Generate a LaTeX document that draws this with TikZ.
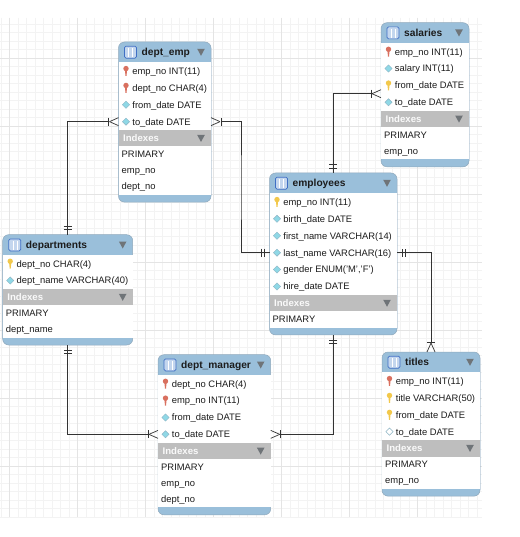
\documentclass[tikz,border=0pt]{standalone}
\usepackage{fontspec}
\setmainfont{Liberation Sans}
\definecolor{hdr}{HTML}{9ABFDA}
\definecolor{band}{HTML}{BEBEBE}
\definecolor{edge}{HTML}{8FA9BC}
\definecolor{tri}{HTML}{6F7478}
\definecolor{gmin}{HTML}{F3F3F3}
\definecolor{gmaj}{HTML}{E4E4E4}
\definecolor{keyy}{HTML}{F2C84B}
\definecolor{fkr}{HTML}{D9705F}
\definecolor{dia}{HTML}{8FD8E6}
\definecolor{diae}{HTML}{8CB4C4}
\definecolor{ink}{HTML}{1C1C1C}
\definecolor{iblue}{HTML}{3F6FC4}
\definecolor{iface}{HTML}{C3D6EE}
\newcommand{\iconpin}[2]{%
  \fill[#2] ([shift={(-1.1,-1)}]#1) -- ([shift={(1.1,-1)}]#1) -- ([shift={(0.5,5)}]#1) -- ([shift={(-0.5,5)}]#1) -- cycle;
  \fill[#2] ([shift={(0,-2.4)}]#1) circle (2.7pt);}
\newcommand{\iconkey}[1]{\iconpin{#1}{keyy}}
\newcommand{\iconfk}[1]{\iconpin{#1}{fkr}}
\newcommand{\icondia}[1]{\draw[diae,fill=dia,line width=.4pt] ([shift={(-3.6,0)}]#1) -- ([shift={(0,-3.6)}]#1) -- ([shift={(3.6,0)}]#1) -- ([shift={(0,3.6)}]#1) -- cycle;}
\newcommand{\iconhol}[1]{\draw[diae,fill=white,line width=.5pt] ([shift={(-3.6,0)}]#1) -- ([shift={(0,-3.6)}]#1) -- ([shift={(3.6,0)}]#1) -- ([shift={(0,3.6)}]#1) -- cycle;}
\newcommand{\trimark}[1]{\fill[tri] ([shift={(-3.8,-3.4)}]#1) -- ([shift={(3.8,-3.4)}]#1) -- ([shift={(0,3.6)}]#1) -- cycle;}
% name x1 x2 ytop ncols nidx title cols idx
\newcommand{\ertable}[9]{%
  \pgfmathsetmacro{\tabw}{#3-#2}
  \pgfmathsetmacro{\tabh}{20.5+#5*16.9+16.5+#6*16+7.5}
  \pgfmathsetmacro{\xc}{(#2+#3)/2}
  \pgfmathsetmacro{\yc}{#4+\tabh/2}
  \node[tablebody,minimum width=\tabw pt,minimum height=\tabh pt] (#1) at (\xc,\yc) {};
  % header
  \pgfmathsetmacro{\yh}{#4+10.2}
  \node[titletext,anchor=base west] (#1-title) at (#2+23,\yh+3.6) {#7};
  \fill[iface,draw=iblue,line width=.7pt,rounded corners=1.5pt] (#2+6,\yh-6) rectangle (#2+18,\yh+6);
  \draw[white,line width=.3pt] (#2+10,\yh-4) -- (#2+10,\yh+5) (#2+14,\yh-4) -- (#2+14,\yh+5);
  \coordinate (#1-tm) at (#3-10,\yh);
  \trimark{#1-tm}
  % columns
  \foreach \ic/\tx [count=\i] in {#8}{
    \pgfmathsetmacro{\yr}{#4+20.5+(\i-0.5)*16.9}
    \node[rowbox,minimum width=\tabw pt,minimum height=17.1pt] (#1-r\i) at (\xc,\yr) {};
    \node[coltext,anchor=base west] (#1-c\i) at (#2+13.7,\yr+3.4) {\tx};
    \coordinate (#1-ic\i) at (#2+7.5,\yr);
    \csname icon\ic\endcsname{#1-ic\i}
  }
  % index band
  \pgfmathsetmacro{\yb}{#4+20.5+#5*16.9+8.25}
  \node[bandbox,minimum width=\tabw pt,minimum height=16.5pt] (#1-band) at (\xc,\yb) {};
  \node[bandtext,anchor=base west] (#1-idx) at (#2+4.5,\yb+3.3) {Indexes};
  \coordinate (#1-bm) at (#3-10,\yb);
  \trimark{#1-bm}
  % index rows
  \foreach \tx [count=\i] in {#9}{
    \pgfmathsetmacro{\yr}{#4+20.5+#5*16.9+16.5+(\i-0.5)*16}
    \node[rowbox,minimum width=\tabw pt,minimum height=16.2pt] (#1-x\i) at (\xc,\yr) {};
    \node[coltext,anchor=base west] (#1-t\i) at (#2+3,\yr+3.3) {\tx};
  }
}
% crow's foot / bars: #1 node anchor, (#2,#3) direction away from the table
\newcommand{\crowmark}[3]{%
  \draw[conn] ([shift={({10*#2+4*#3},{10*#3+4*#2})}]#1) -- ([shift={({10*#2-4*#3},{10*#3-4*#2})}]#1);
  \draw[conn] ([shift={({9*#2},{9*#3})}]#1) -- ([shift={({4*#3},{4*#2})}]#1);
  \draw[conn] ([shift={({9*#2},{9*#3})}]#1) -- ([shift={({-4*#3},{-4*#2})}]#1);}
\newcommand{\onemark}[3]{%
  \draw[conn] ([shift={({5*#2+4*#3},{5*#3+4*#2})}]#1) -- ([shift={({5*#2-4*#3},{5*#3-4*#2})}]#1);
  \draw[conn] ([shift={({8.5*#2+4*#3},{8.5*#3+4*#2})}]#1) -- ([shift={({8.5*#2-4*#3},{8.5*#3-4*#2})}]#1);}
\tikzset{
  tablebody/.style={draw=edge,fill=hdr,line width=.5pt,rounded corners=6pt,inner sep=0pt,outer sep=0pt},
  rowbox/.style={fill=white,inner sep=0pt,outer sep=0pt},
  bandbox/.style={fill=band,inner sep=0pt,outer sep=0pt},
  titletext/.style={font=\fontsize{10.2}{12}\selectfont\bfseries,text=ink,inner sep=0pt},
  coltext/.style={font=\fontsize{9.4}{11}\selectfont,text=ink,inner sep=0pt},
  bandtext/.style={font=\fontsize{9.6}{11}\selectfont\bfseries,text=white!92!band,inner sep=0pt},
  conn/.style={draw=black!80,line width=.7pt},
  gridmin/.style={draw=gmin,line width=.5pt},
  gridmaj/.style={draw=gmaj,line width=.6pt}
}
\begin{document}
\begin{tikzpicture}[x=1pt,y=-1pt]
\useasboundingbox (0,0) rectangle (519,537);
\fill[white] (0,0) rectangle (519,537);
% grid
\foreach \k in {0,...,56}{
  \pgfmathsetmacro{\gx}{9.5+8.5*(\k-1)}
  \ifdim\gx pt>0pt \draw[gridmin] (\gx,18) -- (\gx,517); \fi
}
\foreach \k in {0,...,58}{
  \pgfmathsetmacro{\gy}{517-8.5*\k}
  \ifdim\gy pt>18pt \draw[gridmin] (0,\gy) -- (482,\gy); \fi
}
\foreach \gx in {9.5,77.5,145.5,213.5,281.5,349.5,417.5}{\draw[gridmaj] (\gx,18) -- (\gx,517);}
\foreach \gy in {58,126,194,262,330,398,466}{\draw[gridmaj] (0,\gy) -- (482,\gy);}
% tables
\ertable{demp}{118.5}{211}{42}{4}{3}{dept\_emp}
  {fk/emp\_no INT(11),fk/dept\_no CHAR(4),dia/from\_date DATE,dia/to\_date DATE}
  {PRIMARY,emp\_no,dept\_no}
\ertable{sal}{381}{469}{22.7}{4}{2}{salaries}
  {fk/emp\_no INT(11),dia/salary INT(11),key/from\_date DATE,dia/to\_date DATE}
  {PRIMARY,emp\_no}
\ertable{emp}{269.5}{397}{173}{6}{1}{employees}
  {key/emp\_no INT(11),dia/birth\_date DATE,dia/first\_name VARCHAR(14),dia/last\_name VARCHAR(16),dia/{gender ENUM('M','F')},dia/hire\_date DATE}
  {PRIMARY}
\ertable{dept}{2.7}{132.7}{234.7}{2}{2}{departments}
  {key/dept\_no CHAR(4),dia/dept\_name VARCHAR(40)}
  {PRIMARY,dept\_name}
\ertable{dmgr}{158}{270.7}{354.7}{4}{3}{dept\_manager}
  {fk/dept\_no CHAR(4),fk/emp\_no INT(11),dia/from\_date DATE,dia/to\_date DATE}
  {PRIMARY,emp\_no,dept\_no}
\ertable{ttl}{382}{480}{352}{4}{2}{titles}
  {fk/emp\_no INT(11),key/title VARCHAR(50),key/from\_date DATE,hol/to\_date DATE}
  {PRIMARY,emp\_no}
% connectors
\coordinate (jog) at (241,188);
\coordinate (saly) at (0,93.7);
\coordinate (salfk) at (sal.west |- saly);
\draw[conn,shorten <=10pt] (demp-r4.west) -| (dept.north);
\draw[conn,shorten <=10pt] (demp-r4.east) -| (jog) |- (emp-r4.west);
\draw[conn,shorten <=10pt] (salfk) -| (emp.north);
\draw[conn,shorten <=10pt] (ttl.north) |- (emp-r4.east);
\draw[conn,shorten <=10pt] (dmgr-r4.east) -| (emp.south);
\draw[conn,shorten <=10pt] (dmgr-r4.west) -| (dept.south);
% marks
\crowmark{demp-r4.west}{-1}{0}
\crowmark{demp-r4.east}{1}{0}
\crowmark{salfk}{-1}{0}
\crowmark{ttl.north}{0}{-1}
\crowmark{dmgr-r4.east}{1}{0}
\crowmark{dmgr-r4.west}{-1}{0}
\onemark{dept.north}{0}{-1}
\onemark{dept.south}{0}{1}
\onemark{emp.north}{0}{-1}
\onemark{emp.south}{0}{1}
\onemark{emp-r4.west}{-1}{0}
\onemark{emp-r4.east}{1}{0}
\end{tikzpicture}
\end{document}
